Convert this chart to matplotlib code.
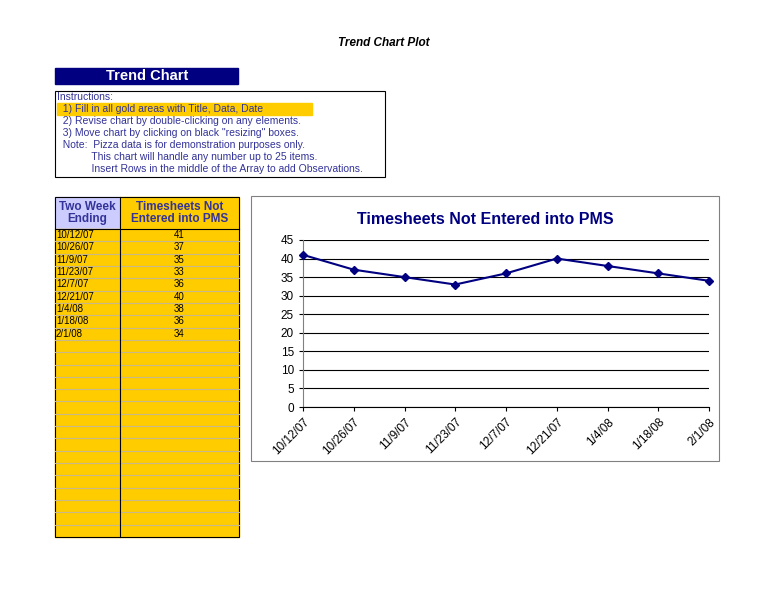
import matplotlib.pyplot as plt
from matplotlib.patches import Rectangle

dates = ["10/12/07", "10/26/07", "11/9/07", "11/23/07", "12/7/07",
         "12/21/07", "1/4/08", "1/18/08", "2/1/08"]
counts = [41, 37, 35, 33, 36, 40, 38, 36, 34]
yticks = [0, 5, 10, 15, 20, 25, 30, 35, 40, 45]
instructions = [
    "Instructions:",
    "  1) Fill in all gold areas with Title, Data, Date",
    "  2) Revise chart by double-clicking on any elements.",
    "  3) Move chart by clicking on black \"resizing\" boxes.",
    "  Note:  Pizza data is for demonstration purposes only.",
    "            This chart will handle any number up to 25 items.",
    "            Insert Rows in the middle of the Array to add Observations.",
]
n_rows = 25

W, H = 768, 594
gold = "#ffcc00"
navy = "#000080"
txtblue = "#333399"
font = "Liberation Sans"

fig = plt.figure(figsize=(7.68, 5.94), dpi=100)
bg = fig.add_axes([0, 0, 1, 1])
bg.set_xlim(0, W)
bg.set_ylim(H, 0)
bg.axis("off")

# page title
bg.text(384, 43, "Trend Chart Plot", ha="center", va="center",
        fontsize=8.5, fontweight="bold", style="italic", family=font)

# navy header
bg.add_patch(Rectangle((55, 68), 183, 16, color=navy))
bg.text(147, 76, "Trend Chart", ha="center", va="center", color="white",
        fontsize=10.5, fontweight="bold", family=font)

# instructions box
bg.add_patch(Rectangle((55, 91), 330, 86, fill=False, ec="black", lw=0.8))
bg.add_patch(Rectangle((57, 102.5), 255, 12, color=gold))
for i, line in enumerate(instructions):
    bg.text(57, 96.5 + i * 12.1, line, ha="left", va="center", color=txtblue,
            fontsize=7.5, family=font)

# data table
x0, x1, x2 = 55, 119.5, 239
top, hdr = 197, 229
rh = (537 - hdr) / n_rows
bg.add_patch(Rectangle((x0, top), x1 - x0, hdr - top, color="#ccccff"))
bg.add_patch(Rectangle((x1, top), x2 - x1, hdr - top, color=gold))
bg.add_patch(Rectangle((x0, hdr), x2 - x0, 537 - hdr, color=gold))
for r in range(1, n_rows):
    y = hdr + r * rh
    bg.plot([x0, x2], [y, y], color="#c8b88a", lw=0.8)
bg.plot([x0, x2], [hdr, hdr], color="black", lw=0.8)
bg.plot([x1, x1], [top, 537], color="black", lw=0.8)
bg.add_patch(Rectangle((x0, top), x2 - x0, 537 - top, fill=False, ec="black", lw=0.8))
bg.text((x0 + x1) / 2, 213, "Two Week\nEnding", ha="center", va="center",
        color=txtblue, fontsize=8.5, fontweight="bold", family=font,
        linespacing=1.05)
bg.text((x1 + x2) / 2, 213, "Timesheets Not\nEntered into PMS", ha="center",
        va="center", color=txtblue, fontsize=8.5, fontweight="bold",
        family=font, linespacing=1.05)
for i, (d, c) in enumerate(zip(dates, counts)):
    y = hdr + (i + 0.5) * rh
    bg.text(x0 + 1, y, d, ha="left", va="center", fontsize=7, family=font)
    bg.text((x1 + x2) / 2, y, str(c), ha="center", va="center", fontsize=7,
            family=font)

# chart frame
bg.add_patch(Rectangle((251, 196), 468, 265, fill=False, ec="#808080", lw=0.8))
bg.text(485, 220, "Timesheets Not Entered into PMS", ha="center", va="center",
        color=navy, fontsize=11.5, fontweight="bold", family=font)

ax = fig.add_axes([303 / W, (H - 407) / H, 406 / W, 167 / H])
ax.plot(range(len(dates)), counts, color=navy, lw=1.5, marker="D",
        markersize=4, markeredgecolor=navy, markerfacecolor=navy, clip_on=False,
        zorder=3)
ax.set_xlim(0, len(dates) - 1)
ax.set_ylim(0, 45)
ax.set_yticks(yticks)
ax.set_xticks(range(len(dates)))
ax.set_xticklabels(dates, rotation=45, ha="right", rotation_mode="anchor")
ax.tick_params(labelsize=8.5, length=3, width=0.8)
for lab in ax.get_xticklabels() + ax.get_yticklabels():
    lab.set_family(font)
ax.grid(axis="y", color="black", lw=0.8)
ax.set_axisbelow(True)
ax.spines["top"].set_visible(False)
ax.spines["right"].set_visible(False)
ax.spines["left"].set_color("#808080")

fig.savefig("out.png", dpi=100)
